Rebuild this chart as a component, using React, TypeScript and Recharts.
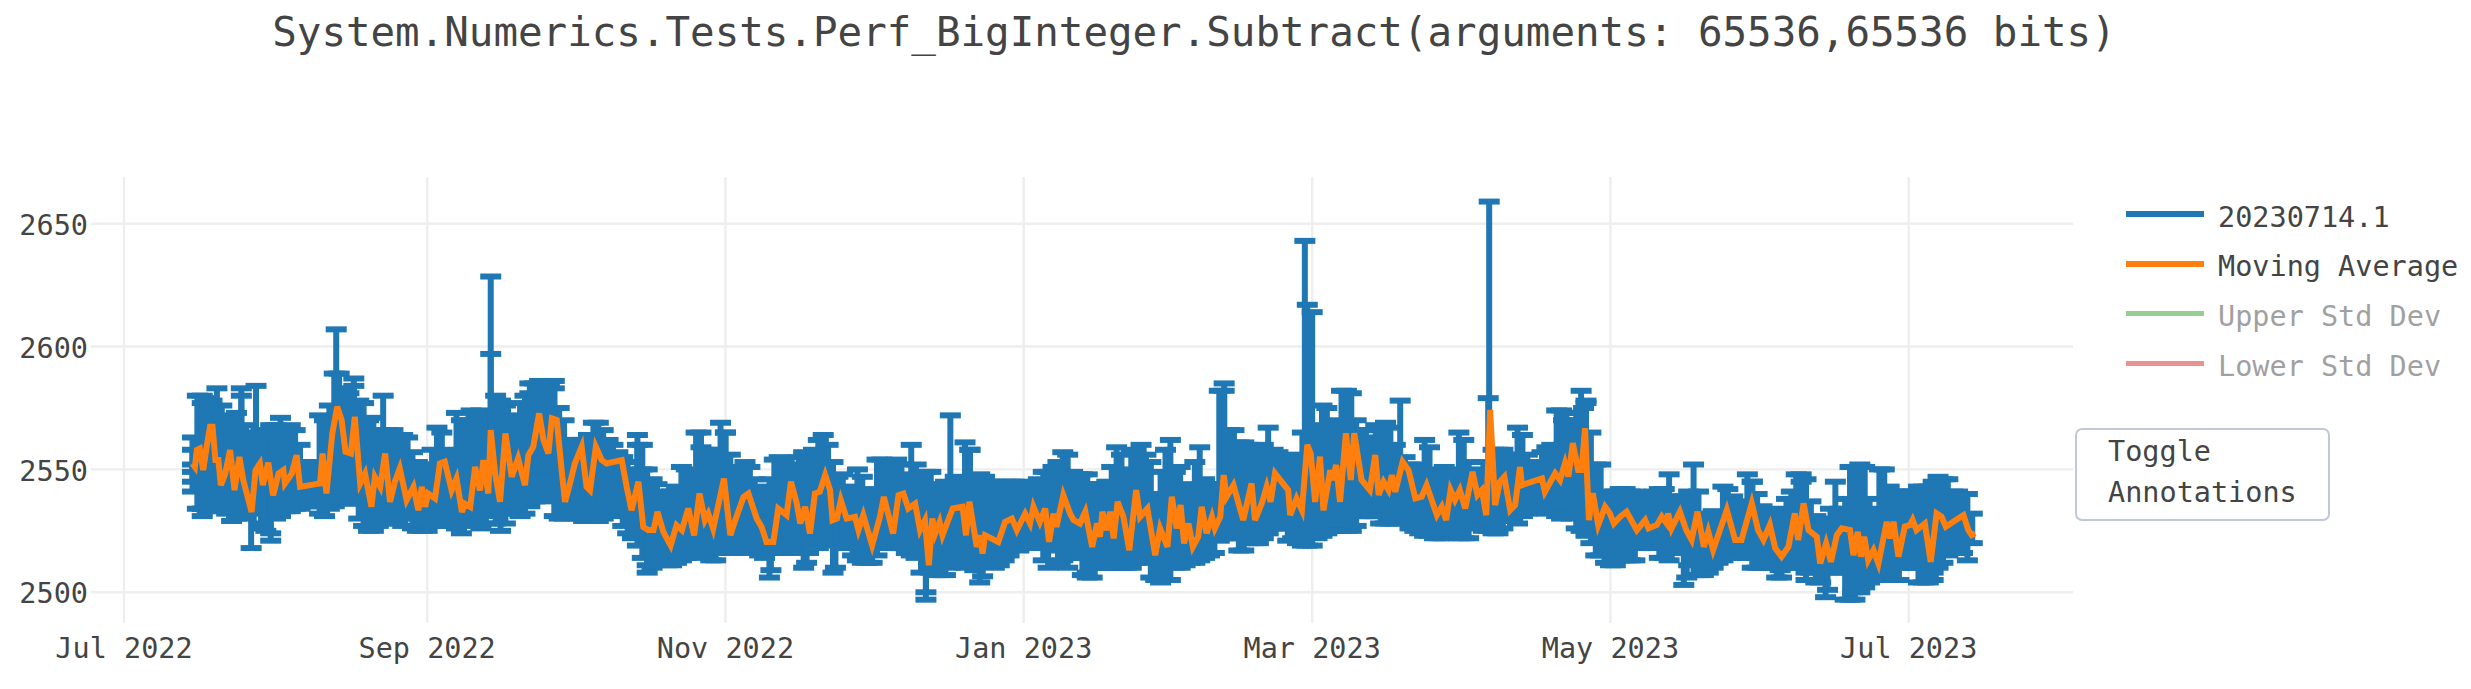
import React from "react";
import { ComposedChart, Line, XAxis, YAxis, CartesianGrid, ErrorBar } from "recharts";

const TITLE = "System.Numerics.Tests.Perf_BigInteger.Subtract(arguments: 65536,65536 bits)";
const xTickDays = [0, 62, 123, 184, 243, 304, 365];
const xTickLabels = ["Jul 2022", "Sep 2022", "Nov 2022", "Jan 2023", "Mar 2023", "May 2023", "Jul 2023"];
const yTicks = [2500, 2550, 2600, 2650];
const legendNames = ["20230714.1", "Moving Average", "Upper Std Dev", "Lower Std Dev"];
const legendColors = ["#1f77b4", "#ff7f0e", "#2ca02c", "#d62728"];
const legendVisible = [true, true, false, false];
const buttonLines = ["Toggle", "Annotations"];

const barFirstDay = 14;
const barHighs = [
  2563, 2580, 2580, 2579, 2578, 2583, 2576, 2570, 2572, 2573,
  2583, 2568, 2565, 2584, 2566, 2565, 2568, 2568, 2571, 2566,
  2568, 2566, 2560, 2553, 2553, 2552, 2572, 2570, 2576, 2589,
  2589, 2583, 2581, 2587, 2578, 2577, 2570, 2571, 2566, 2580,
  2566, 2566, 2564, 2564, 2563, 2557, 2553, 2552, 2552, 2558,
  2567, 2565, 2558, 2556, 2573, 2570, 2570, 2574, 2572, 2574,
  2572, 2597, 2580, 2578, 2576, 2570, 2572, 2577, 2580, 2585,
  2585, 2586, 2582, 2584, 2586, 2575, 2570, 2562, 2561, 2562,
  2562, 2564, 2569, 2569, 2566, 2562, 2560, 2557, 2555, 2553,
  2550, 2564, 2550, 2550, 2546, 2544, 2541, 2540, 2541, 2543,
  2551, 2550, 2549, 2565, 2559, 2558, 2557, 2558, 2569, 2565,
  2556, 2550, 2551, 2553, 2551, 2546, 2543, 2542, 2546, 2554,
  2555, 2553, 2551, 2552, 2555, 2557, 2555, 2558, 2562, 2564,
  2560, 2553, 2547, 2548, 2543, 2541, 2550, 2547, 2540, 2542,
  2554, 2554, 2552, 2553, 2554, 2552, 2548, 2560, 2552, 2548,
  2549, 2549, 2544, 2543, 2545, 2572, 2547, 2546, 2561, 2558,
  2546, 2548, 2547, 2545, 2545, 2544, 2545, 2545, 2545, 2544,
  2545, 2544, 2543, 2546, 2549, 2549, 2551, 2553, 2557, 2556,
  2549, 2548, 2548, 2548, 2544, 2544, 2544, 2545, 2551, 2559,
  2556, 2550, 2557, 2558, 2560, 2556, 2553, 2540, 2549, 2558,
  2562, 2549, 2551, 2544, 2543, 2553, 2559, 2546, 2544, 2544,
  2582, 2585, 2566, 2566, 2561, 2561, 2560, 2558, 2557, 2560,
  2567, 2558, 2557, 2555, 2555, 2554, 2556, 2565, 2617, 2614,
  2568, 2576, 2575, 2570, 2569, 2582, 2582, 2581, 2570, 2566,
  2566, 2563, 2568, 2566, 2569, 2567, 2560, 2578, 2555, 2552,
  2552, 2551, 2562, 2559, 2550, 2548, 2551, 2549, 2550, 2565,
  2562, 2553, 2550, 2548, 2553, 2579, 2558, 2558, 2558, 2556,
  2556, 2567, 2564, 2556, 2551, 2553, 2557, 2559, 2560, 2574,
  2574, 2573, 2570, 2573, 2582, 2577, 2565, 2552, 2552, 2541,
  2540, 2541, 2542, 2542, 2541, 2541, 2540, 2539, 2540, 2541,
  2542, 2542, 2548, 2539, 2539, 2539, 2541, 2552, 2541, 2531,
  2532, 2533, 2531, 2543, 2542, 2539, 2536, 2537, 2548, 2545,
  2540, 2535, 2533, 2532, 2530, 2534, 2538, 2541, 2548, 2548,
  2546, 2537, 2531, 2530, 2529, 2534, 2545, 2534, 2538, 2551,
  2551, 2552, 2551, 2538, 2534, 2550, 2550, 2543, 2541, 2541,
  2541, 2540, 2541, 2543, 2543, 2543, 2545, 2547, 2546, 2546,
  2541, 2541, 2540, 2540, 2532,
];
const barLows = [
  2541, 2534, 2531, 2533, 2534, 2533, 2535, 2532, 2529, 2530,
  2531, 2530, 2518, 2532, 2528, 2525, 2521, 2530, 2531, 2533,
  2533, 2534, 2534, 2536, 2535, 2535, 2532, 2531, 2534, 2535,
  2537, 2538, 2538, 2536, 2530, 2527, 2525, 2525, 2527, 2529,
  2530, 2528, 2528, 2527, 2530, 2526, 2525, 2525, 2525, 2527,
  2528, 2530, 2527, 2527, 2526, 2524, 2528, 2528, 2527, 2526,
  2528, 2531, 2528, 2525, 2528, 2532, 2532, 2531, 2532, 2535,
  2537, 2538, 2538, 2537, 2531, 2530, 2530, 2531, 2533, 2530,
  2529, 2530, 2532, 2529, 2530, 2532, 2532, 2531, 2527, 2524,
  2522, 2519, 2514, 2508, 2510, 2513, 2512, 2511, 2511, 2512,
  2513, 2514, 2514, 2515, 2515, 2515, 2513, 2513, 2517, 2516,
  2516, 2516, 2516, 2517, 2518, 2517, 2515, 2514, 2506, 2516,
  2516, 2516, 2517, 2518, 2516, 2510, 2516, 2518, 2518, 2520,
  2519, 2508, 2520, 2520, 2518, 2515, 2513, 2512, 2512, 2512,
  2515, 2519, 2518, 2519, 2518, 2518, 2516, 2515, 2514, 2508,
  2497, 2508, 2507, 2507, 2507, 2510, 2512, 2511, 2510, 2511,
  2509, 2504, 2511, 2513, 2510, 2511, 2513, 2515, 2518, 2517,
  2520, 2520, 2519, 2518, 2513, 2510, 2517, 2512, 2513, 2510,
  2514, 2514, 2507, 2506, 2506, 2510, 2510, 2510, 2510, 2510,
  2510, 2510, 2510, 2512, 2512, 2513, 2506, 2505, 2504, 2505,
  2505, 2510, 2510, 2511, 2512, 2512, 2513, 2514, 2515, 2516,
  2521, 2522, 2522, 2522, 2517, 2517, 2520, 2520, 2520, 2522,
  2524, 2526, 2526, 2526, 2521, 2522, 2520, 2519, 2519, 2519,
  2522, 2523, 2524, 2525, 2525, 2525, 2525, 2525, 2527, 2531,
  2531, 2531, 2531, 2528, 2528, 2528, 2528, 2529, 2528, 2526,
  2525, 2524, 2523, 2523, 2522, 2522, 2522, 2524, 2524, 2522,
  2522, 2522, 2526, 2527, 2525, 2525, 2524, 2524, 2526, 2529,
  2529, 2528, 2531, 2532, 2534, 2535, 2534, 2532, 2533, 2531,
  2530, 2532, 2530, 2526, 2525, 2523, 2520, 2515, 2515, 2512,
  2511, 2511, 2513, 2513, 2513, 2513, 2518, 2520, 2520, 2518,
  2514, 2514, 2513, 2517, 2516, 2503, 2511, 2507, 2507, 2507,
  2508, 2510, 2512, 2513, 2515, 2515, 2514, 2514, 2514, 2510,
  2510, 2510, 2510, 2510, 2506, 2506, 2510, 2510, 2510, 2510,
  2508, 2508, 2504, 2504, 2498, 2509, 2508, 2508, 2497, 2497,
  2497, 2500, 2502, 2504, 2505, 2507, 2506, 2505, 2505, 2505,
  2510, 2510, 2510, 2504, 2504, 2504, 2505, 2510, 2512, 2515,
  2516, 2516, 2516, 2513, 2520,
];
const extraDays = [
  14, 14, 16, 24, 43.4, 75, 106, 118, 123, 173, 225, 241.5, 279.2, 299, 333,
  47, 105, 298.5, 343, 294.4, 85, 88, 83, 77, 21, 33, 30,
  30, 28.5, 16, 344, 348.4, 353.5, 369, 370, 107, 132.3, 139.6, 145.5, 175.6, 212, 197, 241.4, 319.6, 338.7, 304.3, 164,
];
const extraHighs = [
  2552, 2558, 2577, 2580, 2607, 2628.5, 2560, 2565, 2565, 2558, 2582, 2643, 2659, 2578, 2545,
  2584, 2560, 2575, 2545, 2570, 2583, 2583, 2581, 2574, 2566, 2564, 2564,
  2550, 2550, 2550, 2525, 2525, 2525, 2525, 2525, 2530, 2530, 2530, 2530, 2530, 2530, 2530, 2535, 2525, 2525, 2525, 2530,
];
const extraLows = [
  2545, 2549, 2534, 2540, 2540, 2540, 2530, 2530, 2530, 2530, 2530, 2530, 2540, 2530, 2525,
  2550, 2530, 2535, 2520, 2535, 2550, 2550, 2550, 2550, 2545, 2545, 2545,
  2524, 2526, 2534, 2505, 2501, 2500, 2506, 2508, 2511, 2509, 2512, 2510, 2506.5, 2507, 2508, 2521, 2506, 2509, 2513, 2500,
];

const avgDays = [
  14, 14.5, 14.9, 15.5, 16.2, 16.9, 17.6, 18.1, 18.7, 19.3, 19.8, 20.7, 21.7, 22.6, 23.6, 24.4, 25.1, 26.1, 26.9, 27.8,
  28.4, 29.5, 30.5, 31.6, 32.6, 32.9, 34.3, 35.3, 36, 40.1, 40.6, 41.4, 42.6, 43.6, 44.5, 45.3, 46.4, 47.2, 48.3, 49.3,
  50.6, 51.3, 52.4, 53.4, 54.4, 55.4, 56.4, 57.8, 59.2, 60.2, 60.9, 61.6, 62.2, 63.6, 64.6, 65.6, 67, 68, 69.1, 69.7,
  70.8, 71.8, 72.8, 73.5, 74.5, 75, 75.9, 76.9, 78, 79.3, 80.6, 82, 82.7, 83.7, 84.9, 85.8, 86.8, 87.5, 88.5, 89.5,
  90.2, 91.2, 92.2, 93.6, 94.6, 95.3, 96.5, 97.7, 98.7, 101.8, 102.8, 103.8, 105.2, 106.2, 107.2, 108.3, 109.1, 110.3, 111.8, 113,
  114.1, 115.4, 116.6, 117.7, 118.8, 119.5, 120.5, 122.7, 124, 125, 126.7, 127.7, 129.4, 130.4, 131.4, 132.8, 133.8, 135.5, 136.4, 137.6,
  138.3, 139.3, 140.3, 141.3, 142.3, 143.4, 144.4, 144.9, 145.8, 146.6, 147.8, 149.5, 150.2, 151.2, 153, 154.6, 155.4, 157.3, 158.4, 159.4,
  160.4, 161.8, 162.8, 163.8, 164.6, 165.3, 165.9, 166.8, 167.4, 168.3, 169.5, 171.5, 172.2, 172.9, 174.4, 175.1, 175.6, 176.1, 178.8, 180.2,
  181.6, 182.6, 184.3, 185.3, 186, 187.3, 188.4, 189.2, 190.1, 190.7, 192.1, 193.5, 194.2, 195.5, 196.6, 198, 199, 199.6, 200.1, 201,
  201.7, 202.4, 203.2, 204.4, 205.6, 207, 207.8, 209.3, 210.9, 211.9, 213.4, 214.3, 215.3, 216.1, 216.8, 217.7, 218.6, 219.7, 220.4, 221.4,
  222.5, 223.1, 224.2, 224.9, 225.5, 226.9, 228.9, 230.6, 231.3, 232.7, 233.7, 234.5, 235.4, 238.1, 238.5, 239.8, 240.9, 242, 242.7, 243.6,
  244.6, 245.3, 246.7, 247.2, 247.9, 248.7, 249.9, 250.9, 251.6, 253.1, 254.8, 255.9, 256.6, 257.6, 258.6, 259.3, 260, 261.5, 262.7, 264.1,
  265.4, 266.4, 268.5, 269.5, 270.4, 271.3, 272.2, 273.2, 274.3, 275.8, 276.8, 277.7, 278.6, 279.4, 280.4, 281.4, 282.3, 283.5, 284.5, 285.5,
  285.9, 290, 290.6, 292.7, 293.7, 294.7, 295.4, 296.3, 297.4, 298.1, 298.8, 299.6, 300.4, 301.5, 302.9, 303.9, 304.7, 306, 307.3, 309.4,
  311.1, 311.8, 313.5, 314.5, 315.5, 315.8, 316.5, 318.2, 319.5, 320.6, 321.8, 323.1, 324, 325, 327.8, 329.5, 330.8, 332.9, 334.2, 335.3,
  336.6, 337.7, 339, 340.4, 341.7, 342.4, 343.5, 344.5, 346.2, 346.9, 348.1, 349.1, 350.3, 351.3, 353, 353.7, 354.6, 355.2, 355.9, 356.7,
  357.8, 358.8, 360.5, 361.2, 361.9, 362.9, 364.2, 365.3, 365.8, 366.6, 368.3, 369.5, 370.7, 371.7, 372.6, 374.1, 376.2, 377.2, 377.9, 378.6,
];
const avgValues = [
  2552.4, 2551, 2557.9, 2558.5, 2549.7, 2559.2, 2567.4, 2567.4, 2553.8, 2553.8, 2543.6, 2548.3, 2557.9, 2541.6, 2555.1, 2545.6, 2540.2, 2532.7, 2549.7, 2552.4,
  2543.6, 2552.7, 2539.5, 2548.3, 2549.7, 2544.3, 2548.3, 2555.8, 2542.9, 2544.3, 2556.5, 2540.2, 2564.6, 2575.5, 2570.1, 2557.2, 2556.5, 2571.4, 2544.3, 2548.3,
  2534.8, 2547, 2542.9, 2556.5, 2536.8, 2545, 2550.4, 2537.5, 2542.9, 2533.4, 2542.9, 2534.8, 2540.2, 2538.2, 2552.4, 2553.1, 2541.5, 2546.3, 2532.7, 2536.1,
  2534.8, 2551, 2541.5, 2553.8, 2540.2, 2566, 2548.3, 2536.8, 2564.6, 2547, 2554.5, 2543.6, 2555.8, 2559.2, 2572.8, 2561.9, 2556.5, 2570.8, 2570.1, 2549.7,
  2536.8, 2544.3, 2552.4, 2559.2, 2542.9, 2541.5, 2559.2, 2553.8, 2552.4, 2553.8, 2542.9, 2533.4, 2545, 2526.6, 2525.3, 2525.3, 2532.7, 2524.6, 2519.1, 2527.3,
  2525.3, 2534.1, 2523.2, 2540.2, 2529.3, 2532, 2525.9, 2546.3, 2523.2, 2529.3, 2538.8, 2540.2, 2530, 2526.6, 2520.5, 2520.5, 2534.1, 2531.4, 2545, 2536.1,
  2528, 2534.8, 2523.9, 2540.2, 2540.9, 2547.7, 2541.6, 2529.3, 2530, 2537.5, 2530, 2530.7, 2525.3, 2531.4, 2519.1, 2530.7, 2538.8, 2523.9, 2539.5, 2540.2,
  2534.1, 2536.1, 2525.3, 2529.3, 2511, 2530, 2523.9, 2528.6, 2523.2, 2528, 2534.1, 2534.8, 2523.2, 2536.8, 2518.5, 2523.2, 2515.7, 2523.2, 2520.5, 2528.6,
  2530, 2525.3, 2532, 2528, 2534.8, 2528.6, 2534.1, 2520.5, 2532, 2526.6, 2539.5, 2532, 2529.4, 2528, 2532.8, 2518.5, 2528, 2522.6, 2532.8, 2525.3,
  2532.8, 2521.9, 2536.8, 2530.7, 2517.1, 2541.6, 2530.7, 2534.1, 2515.1, 2526, 2518.5, 2538.9, 2526, 2535.5, 2519.9, 2528, 2518.5, 2522.6, 2534.8, 2524,
  2530.7, 2526, 2530.7, 2547.7, 2538.9, 2543.6, 2529.4, 2544.3, 2529.4, 2536.2, 2543, 2536.8, 2548.4, 2541.6, 2531.4, 2538.2, 2533.4, 2560, 2556.5, 2536.8,
  2555.2, 2533.4, 2549.7, 2545.7, 2551.8, 2536.8, 2564.7, 2545.7, 2564.7, 2545.7, 2541.6, 2555.9, 2539.6, 2545, 2541.6, 2547.7, 2540.9, 2553.1, 2549.7, 2538.2,
  2538.9, 2543.6, 2531.4, 2534.8, 2529.4, 2541.6, 2537.5, 2541.6, 2534.1, 2549, 2539.6, 2541.6, 2531.4, 2574.2, 2535.5, 2545, 2547, 2533.4, 2535.5, 2551,
  2543.6, 2546.3, 2540.9, 2548.4, 2545.7, 2552.5, 2547.1, 2560.7, 2549.8, 2549.8, 2566.8, 2529.4, 2540.3, 2527.4, 2534.8, 2532.1, 2528, 2530.8, 2532.8, 2525.3,
  2529.4, 2526, 2527.4, 2530.8, 2528, 2532.1, 2526, 2532.8, 2525.3, 2521.3, 2532.8, 2518.5, 2524.7, 2517.2, 2533.5, 2521.3, 2521.3, 2536.2, 2525.3, 2521.3,
  2527.4, 2517.9, 2514.5, 2518.5, 2532.1, 2521.3, 2536.2, 2525.3, 2522.6, 2511.7, 2519.9, 2512.4, 2523.3, 2526, 2525.3, 2515.1, 2524.6, 2514.5, 2522.6, 2513.1,
  2517.2, 2511.7, 2528.7, 2521.9, 2528.7, 2514.5, 2526.7, 2527.4, 2529.4, 2525.3, 2528, 2512.4, 2532.1, 2530.8, 2526.7, 2528.7, 2531.4, 2525.3, 2523.3, 2524,
];

type BarRow = { day: number; mid: number; lo: number; hi: number };
const barRows: BarRow[] = barHighs.map((hi, i) => ({
  day: barFirstDay + i,
  lo: barLows[i],
  hi,
  mid: (hi + barLows[i]) / 2,
}));
extraDays.forEach((day, i) => {
  barRows.push({ day, lo: extraLows[i], hi: extraHighs[i], mid: (extraLows[i] + extraHighs[i]) / 2 });
});
const avgRows = avgDays.map((day, i) => ({ day, avg: avgValues[i] }));

const MONO = "'DejaVu Sans Mono', monospace";
const TEXT = "#444444";
const xTickStyle = { fontFamily: MONO, fontSize: 28.5, fill: TEXT };
const yTickStyle = { fontFamily: MONO, fontSize: 28.5, fill: TEXT, dx: 7, dy: 1 };
const errorRange = (r: BarRow): [number, number] => [r.mid - r.lo, r.hi - r.mid];

export default function App() {
  return (
    <div style={{ position: "absolute", left: 0, top: 0, width: 2471, height: 689, overflow: "hidden", background: "#fff" }}>
      <ComposedChart
        width={2471}
        height={689}
        margin={{ top: 177, right: 398, bottom: 0, left: 0 }}
      >
        <CartesianGrid stroke="#eeeeee" strokeWidth={2.4} horizontalValues={yTicks} verticalValues={xTickDays} />
        <XAxis
          type="number"
          dataKey="day"
          domain={[-6.75, 398.6]}
          ticks={xTickDays}
          tickFormatter={(d: number) => xTickLabels[xTickDays.indexOf(d)]}
          allowDataOverflow
          axisLine={false}
          tickLine={false}
          height={66}
          tick={xTickStyle}
          tickMargin={9}
          interval={0}
        />
        <YAxis
          type="number"
          domain={[2487.5, 2669]}
          ticks={yTicks}
          allowDataOverflow
          axisLine={false}
          tickLine={false}
          width={91}
          tick={yTickStyle}
          tickMargin={4}
          interval={0}
        />
        <Line
          data={barRows}
          dataKey="mid"
          stroke="none"
          dot={false}
          legendType="none"
          isAnimationActive={false}
        >
          <ErrorBar dataKey={errorRange} direction="y" width={10.5} strokeWidth={6} stroke="#1f77b4" isAnimationActive={false} />
        </Line>
        <Line
          data={avgRows}
          dataKey="avg"
          stroke="#ff7f0e"
          strokeWidth={6}
          strokeLinejoin="miter"
          dot={false}
          isAnimationActive={false}
        />
      </ComposedChart>

      <div style={{ position: "absolute", left: 0, top: 8, width: 2388, textAlign: "center", fontFamily: MONO, fontSize: 40.85, color: TEXT, whiteSpace: "pre" }}>
        {TITLE}
      </div>

      {legendNames.map((name, i) => (
        <div key={name} style={{ position: "absolute", left: 2126, top: 189 + i * 49.8, height: 50, display: "flex", alignItems: "center", opacity: legendVisible[i] ? 1 : 0.5 }}>
          <div style={{ width: 78, height: 5.5, background: legendColors[i] }} />
          <div style={{ marginLeft: 14, marginTop: 6, fontFamily: MONO, fontSize: 28.5, color: TEXT, whiteSpace: "pre" }}>{name}</div>
        </div>
      ))}

      <div style={{ position: "absolute", left: 2075, top: 428, width: 255, height: 93, boxSizing: "border-box", border: "2.5px solid #bec8d9", borderRadius: 7, background: "#fff" }} />
      {buttonLines.map((line, i) => (
        <div key={line} style={{ position: "absolute", left: 2108, top: 431 + i * 41, height: 41, lineHeight: "41px", fontFamily: MONO, fontSize: 28.5, color: TEXT, whiteSpace: "pre" }}>
          {line}
        </div>
      ))}
    </div>
  );
}
